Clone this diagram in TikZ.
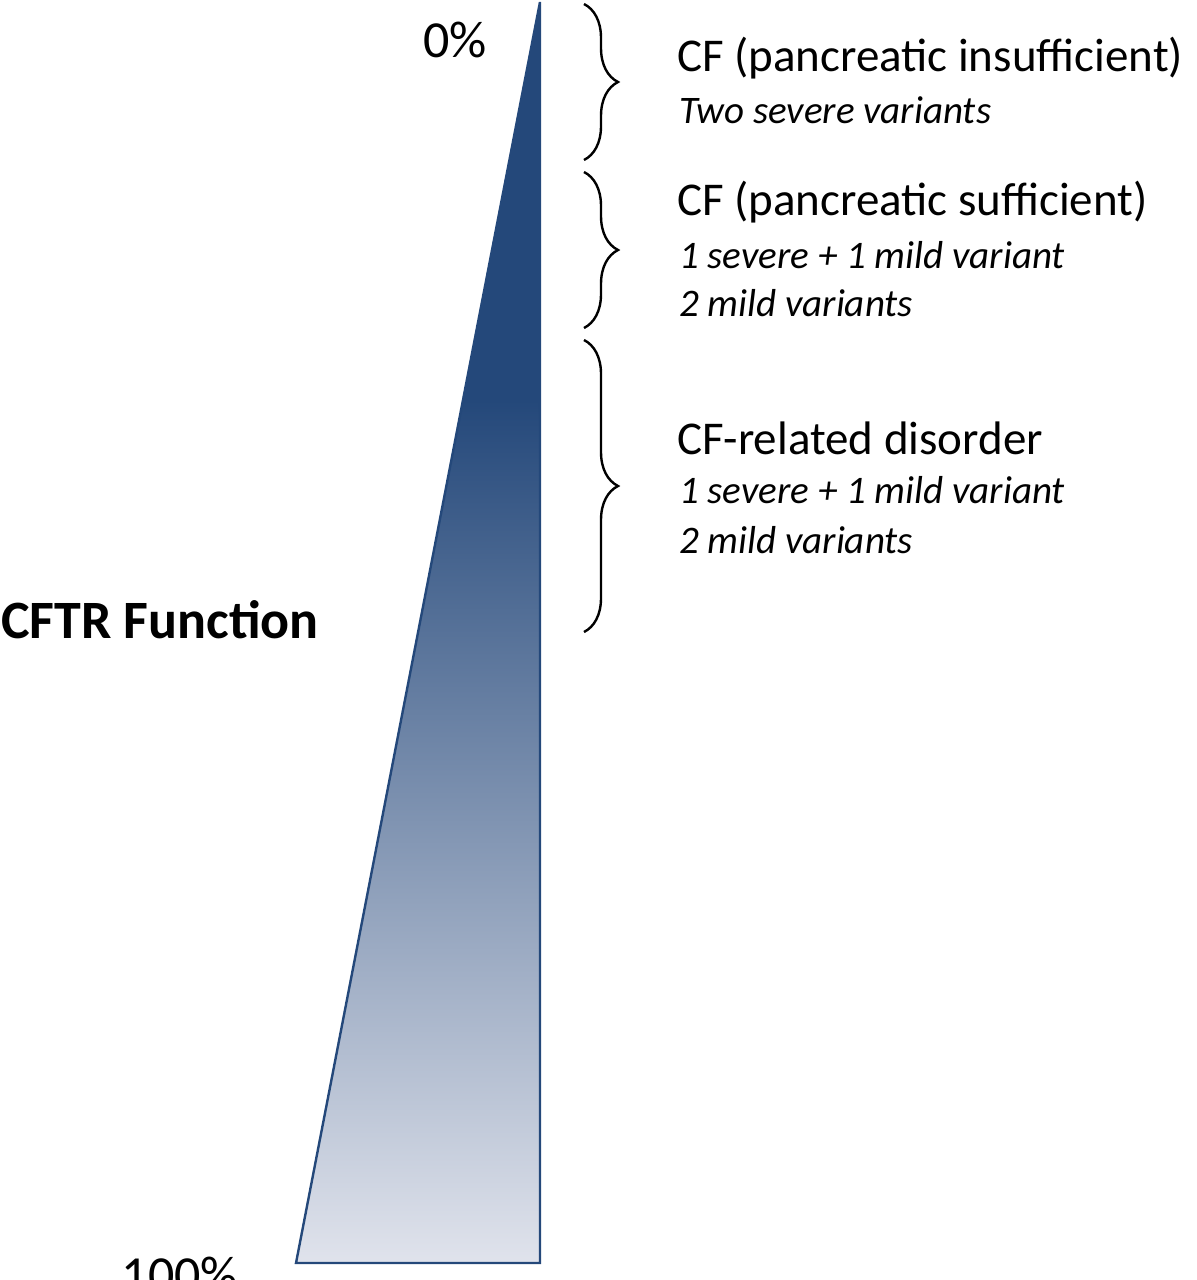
\documentclass[tikz,border=0pt]{standalone}
\usepackage{fontspec}
\setmainfont{Carlito}
\usetikzlibrary{decorations.pathreplacing}
\definecolor{dk}{HTML}{24487A}
\definecolor{lt}{HTML}{E0E3EC}
\begin{document}
\begin{tikzpicture}[x=0.5pt,y=-0.5pt,
 ttl/.style={anchor=west,font=\fontsize{23.5}{26}\selectfont},
 sub/.style={anchor=west,font=\fontsize{19.5}{22}\selectfont\itshape},
 br/.style={decorate,decoration={brace,amplitude=17pt},line width=1.2pt}]
\useasboundingbox (0,0) rectangle (1197,1280);
\begin{scope}
\clip (540,2) -- (540,1263) -- (296,1263) -- cycle;
\fill[dk] (250,0) rectangle (560,401);
\shade[top color=dk,bottom color=lt] (250,400) rectangle (560,1263);
\end{scope}
\draw[dk,line width=1.2pt] (540,2) -- (540,1263) -- (296,1263) -- cycle;
\node[font=\fontsize{26}{30}\selectfont] (z) at (455,40) {0\%};
\node[font=\fontsize{26}{30}\selectfont] (h) at (180,1275) {100\%};
\node[anchor=west,font=\fontsize{27}{30}\selectfont\bfseries] (f) at (-6,620) {CFTR Function};
\coordinate (a1) at (584,4); \coordinate (a2) at (584,160);
\coordinate (b1) at (584,172); \coordinate (b2) at (584,328);
\coordinate (c1) at (584,340); \coordinate (c2) at (584,632);
\draw[br] (a1) -- (a2);
\draw[br] (b1) -- (b2);
\draw[br] (c1) -- (c2);
\node[ttl] (t1) at (670,58) {CF (pancreatic insufficient)};
\node[sub] (s1) at (672,110) {Two severe variants};
\node[ttl] (t2) at (670,202) {CF (pancreatic sufficient)};
\node[sub] (s2) at (672,255) {1 severe + 1 mild variant};
\node[sub] (s3) at (672,303) {2 mild variants};
\node[ttl] (t3) at (670,438) {CF-related disorder};
\node[sub] (s4) at (672,490) {1 severe + 1 mild variant};
\node[sub] (s5) at (672,540) {2 mild variants};
\end{tikzpicture}
\end{document}
